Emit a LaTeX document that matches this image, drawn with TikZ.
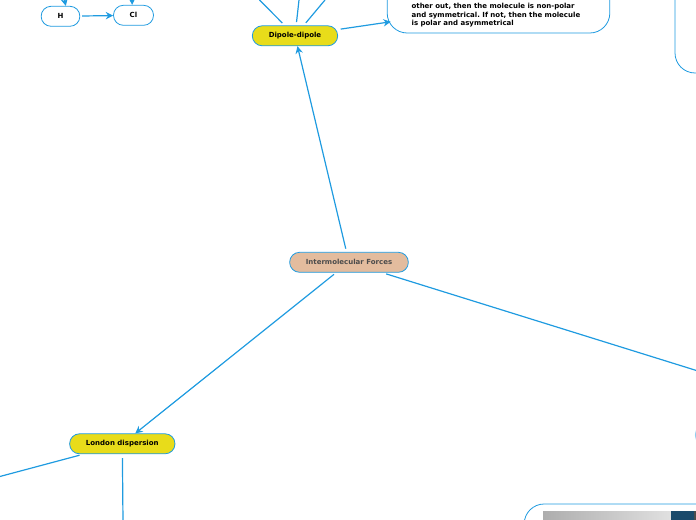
\documentclass[tikz,border=0pt]{standalone}
\usepackage{fontspec}
\setmainfont{DejaVu Sans}
\usetikzlibrary{arrows.meta}
\definecolor{linkblue}{HTML}{1F9BE0}
\definecolor{topicyellow}{HTML}{E8DC1A}
\definecolor{rootbrown}{HTML}{E3BC9E}
\definecolor{photodark}{HTML}{1B4A6B}
\begin{document}
\begin{tikzpicture}[x=0.75pt,y=-0.75pt,line width=0.9pt,
        link/.style={draw=linkblue, -{Stealth[length=5.5pt,width=5.5pt]}},
        plainlink/.style={draw=linkblue},
        box/.style={draw=linkblue, line width=0.6pt, rounded corners=7.4pt, fill=white,
                        font=\bfseries\fontsize{5.25}{6.2}\selectfont\frenchspacing, inner sep=0pt},
        topic/.style={box, fill=topicyellow, minimum height=15pt},
        root/.style={box, fill=rootbrown, text=black!70, minimum height=15pt},
        bubble/.style={box, rounded corners=15pt}]
    \useasboundingbox (0,0) rectangle (696,520);
    \clip (0,0) rectangle (696,520);
    % boxes
    \node[root, minimum width=89pt] (forces) at (349,262.3) {Intermolecular Forces};
    \node[topic, minimum width=64pt] (dipole) at (295,35.8) {Dipole-dipole};
    \node[topic, minimum width=79pt] (london) at (122.3,443.8) {London dispersion};
    \node[box, minimum width=29pt, minimum height=15pt] (h) at (60.5,16.3) {H};
    \node[box, minimum width=30pt, minimum height=15pt] (cl) at (133.5,15.3) {Cl};
    \node[bubble, minimum width=167pt, minimum height=40.5pt] (rule) at (498.5,6) {};
    \node[font=\bfseries\fontsize{5.25}{6.2}\selectfont\frenchspacing, align=left, anchor=north west, inner sep=0pt]
        (ruletext) at (411,3) {other out, then the molecule is non-polar\\
        and symmetrical. If not, then the molecule\\
        is polar and asymmetrical};
    \node[bubble, minimum width=60pt, minimum height=90pt] (side) at (715,13) {};
    \node[bubble, minimum width=170pt, minimum height=60pt] (photo) at (637.5,544) {};
    \node[box, draw=linkblue!50, minimum width=40pt, minimum height=15pt] (edge) at (722,435) {};
    % picture strip
    \shade[left color=black!32, right color=black!12] (543,511) rectangle (671,520);
    \fill[photodark] (671,511) rectangle (694,520);
    \fill[black!70] (694,511) rectangle (696,520);
    % free ends
    \coordinate (upH) at (64,-2);
    \coordinate (upCl) at (132,-2);
    \coordinate (upa) at (259.5,0);
    \coordinate (upb) at (299,0);
    \coordinate (upc) at (325,0);
    \coordinate (offright) at (698,371);
    \coordinate (offleft) at (-2,477);
    \coordinate (offdown) at (123,522);
    % connectors
    \draw[link, shorten <=2.5pt] (forces) -- (dipole);
    \draw[link, shorten <=2pt] (forces) -- (london);
    \draw[plainlink, shorten <=3pt] (forces) -- (offright);
    \draw[plainlink, shorten <=3pt] (london) -- (offleft);
    \draw[plainlink, shorten <=3pt] (london) -- (offdown);
    \draw[link, shorten <=1.5pt] (h) -- (cl);
    \draw[link, shorten <=2pt, shorten >=-3pt] (dipole) -- (rule);
    \draw[plainlink, shorten <=2.5pt] (dipole) -- (upa);
    \draw[plainlink, shorten <=2.5pt] (dipole) -- (upb);
    \draw[plainlink, shorten <=2.5pt] (dipole) -- (upc);
    \draw[link] (upH) -- ([xshift=4pt]h.north);
    \draw[link] (upCl) -- ([xshift=-1pt]cl.north);
\end{tikzpicture}
\end{document}
